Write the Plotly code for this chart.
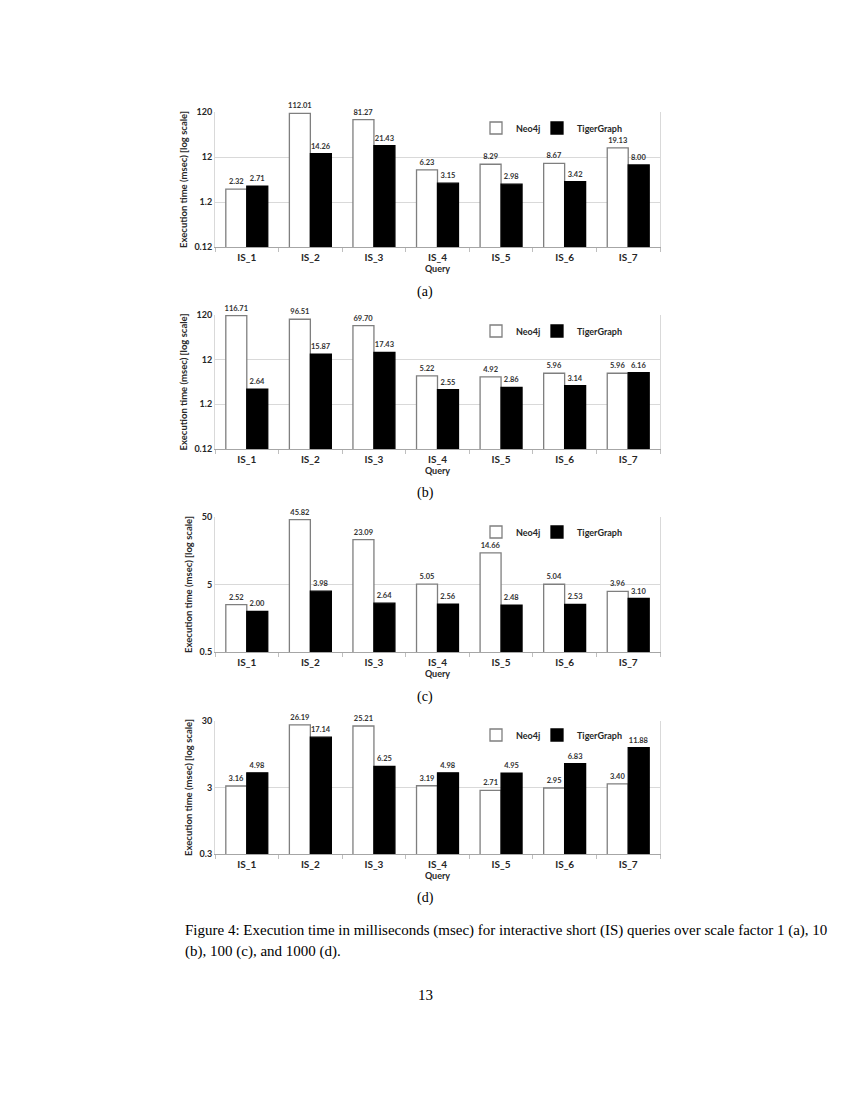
import math
import plotly.graph_objects as go

queries = ["IS_1", "IS_2", "IS_3", "IS_4", "IS_5", "IS_6", "IS_7"]

neo4j_a = [2.32, 112.01, 81.27, 6.23, 8.29, 8.67, 19.13]
tiger_a = [2.71, 14.26, 21.43, 3.15, 2.98, 3.42, 8.00]
neo4j_b = [116.71, 96.51, 69.70, 5.22, 4.92, 5.96, 5.96]
tiger_b = [2.64, 15.87, 17.43, 2.55, 2.86, 3.14, 6.16]
neo4j_c = [2.52, 45.82, 23.09, 5.05, 14.66, 5.04, 3.96]
tiger_c = [2.00, 3.98, 2.64, 2.56, 2.48, 2.53, 3.10]
neo4j_d = [3.16, 26.19, 25.21, 3.19, 2.71, 2.95, 3.40]
tiger_d = [4.98, 17.14, 6.25, 4.98, 4.95, 6.83, 11.88]

yticks_a = [0.12, 1.2, 12, 120]
yticks_b = [0.12, 1.2, 12, 120]
yticks_c = [0.5, 5, 50]
yticks_d = [0.3, 3, 30]
yticktext_a = ["0.12", "1.2", "12", "120"]
yticktext_b = ["0.12", "1.2", "12", "120"]
yticktext_c = ["0.5", "5", "50"]
yticktext_d = ["0.3", "3", "30"]

panel_labels = ["(a)", "(b)", "(c)", "(d)"]
series_names = ["Neo4j", "TigerGraph"]
y_title = "Execution time (msec) [log scale]"
x_title = "Query"
caption_line1 = ("Figure 4: Execution time in milliseconds (msec) for interactive short (IS) "
                 "queries over scale factor 1 (a), 10")
caption_line2 = "(b), 100 (c), and 1000 (d)."
page_number = "13"

# the page body has an 8px margin; the figure fills the rest of the 850x1100 window
PAGE_W, PAGE_H, BODY = 850, 1100, 8
W, H = PAGE_W - 2 * BODY, PAGE_H - 2 * BODY
FONT = "Lato"
SERIF = "Liberation Serif"
INK = "#262626"


def fx(p):
    return (p - BODY) / W


def fy(p):
    return 1 - (p - BODY) / H


panels = [
    (neo4j_a, tiger_a, yticks_a, yticktext_a, 112, 247, 128, 292),
    (neo4j_b, tiger_b, yticks_b, yticktext_b, 315, 449, 331, 493),
    (neo4j_c, tiger_c, yticks_c, yticktext_c, 517, 652, 532, 697),
    (neo4j_d, tiger_d, yticks_d, yticktext_d, 721, 854, 735, 898),
]

fig = go.Figure()
layout = {}
annotations = []
x_dom = [fx(215), fx(660)]
legend_x = [476, 537]

for i, (neo, tig, tv, tt, top, bot, leg_y, cap_y) in enumerate(panels):
    sfx = "" if i == 0 else str(i + 1)
    series = [
        (series_names[0], neo, "#ffffff", "#7f7f7f"),
        (series_names[1], tig, "#000000", "#000000"),
    ]
    for j, (name, vals, fill, line) in enumerate(series):
        k = 2 * i + j + 1
        legend_name = "legend" if k == 1 else "legend%d" % k
        fig.add_trace(go.Bar(
            x=queries, y=vals, name=name,
            xaxis="x" + sfx, yaxis="y" + sfx,
            legend=legend_name,
            marker=dict(color=fill, line=dict(color=line, width=1.3)),
            texttemplate="%{y:.2f}", textposition="outside",
            textfont=dict(family=FONT, size=7.5, color="#333333", weight="bold"),
            constraintext="none", cliponaxis=False,
        ))
        layout[legend_name] = dict(
            orientation="h", x=fx(legend_x[j]), xanchor="left",
            y=fy(leg_y), yanchor="middle",
            bgcolor="rgba(0,0,0,0)", borderwidth=0,
            font=dict(family=FONT, size=9, color=INK, weight="bold"),
            itemclick=False, itemdoubleclick=False,
        )
    layout["xaxis" + sfx] = dict(
        domain=x_dom, anchor="y" + sfx, type="category",
        tickson="boundaries", ticks="outside", ticklen=4, tickcolor="#bfbfbf",
        showline=True, linecolor="#a6a6a6", linewidth=1, showgrid=False,
        ticklabelstandoff=1,
        tickfont=dict(family=FONT, size=10, color=INK, weight="bold"),
        title=dict(text=x_title, standoff=1,
                   font=dict(family=FONT, size=9, color=INK, weight="bold")),
        automargin=False, fixedrange=True,
    )
    layout["yaxis" + sfx] = dict(
        domain=[fy(bot), fy(top)], anchor="x" + sfx, type="log",
        range=[math.log10(tv[0]), math.log10(tv[-1])],
        tickvals=tv, ticktext=tt, ticks="",
        showgrid=True, gridcolor="#d9d9d9", gridwidth=1,
        showline=True, linecolor="#d9d9d9", linewidth=1, mirror=True,
        zeroline=False,
        tickfont=dict(family=FONT, size=9, color=INK, weight="bold"),
        title=dict(text=y_title, standoff=5,
                   font=dict(family=FONT, size=9.5, color=INK, weight="bold")),
        automargin=False, fixedrange=True,
    )
    annotations.append(dict(
        text=panel_labels[i], x=fx(425), y=fy(cap_y), xref="paper", yref="paper",
        xanchor="center", yanchor="middle", showarrow=False,
        font=dict(family=SERIF, size=14, color="#000000"),
    ))

for text, ypos in [(caption_line1, 930), (caption_line2, 951)]:
    annotations.append(dict(
        text=text, x=fx(183), y=fy(ypos), xref="paper", yref="paper",
        xanchor="left", yanchor="middle", showarrow=False,
        font=dict(family=SERIF, size=15, color="#000000"),
    ))
annotations.append(dict(
    text=page_number, x=fx(425), y=fy(995), xref="paper", yref="paper",
    xanchor="center", yanchor="middle", showarrow=False,
    font=dict(family=SERIF, size=15, color="#000000"),
))

fig.update_layout(
    width=W, height=H, margin=dict(l=0, r=0, t=0, b=0),
    paper_bgcolor="#ffffff", plot_bgcolor="#ffffff",
    barmode="group", bargap=0.34, bargroupgap=0,
    showlegend=True, annotations=annotations,
    **layout,
)

fig.write_html("out.html")
